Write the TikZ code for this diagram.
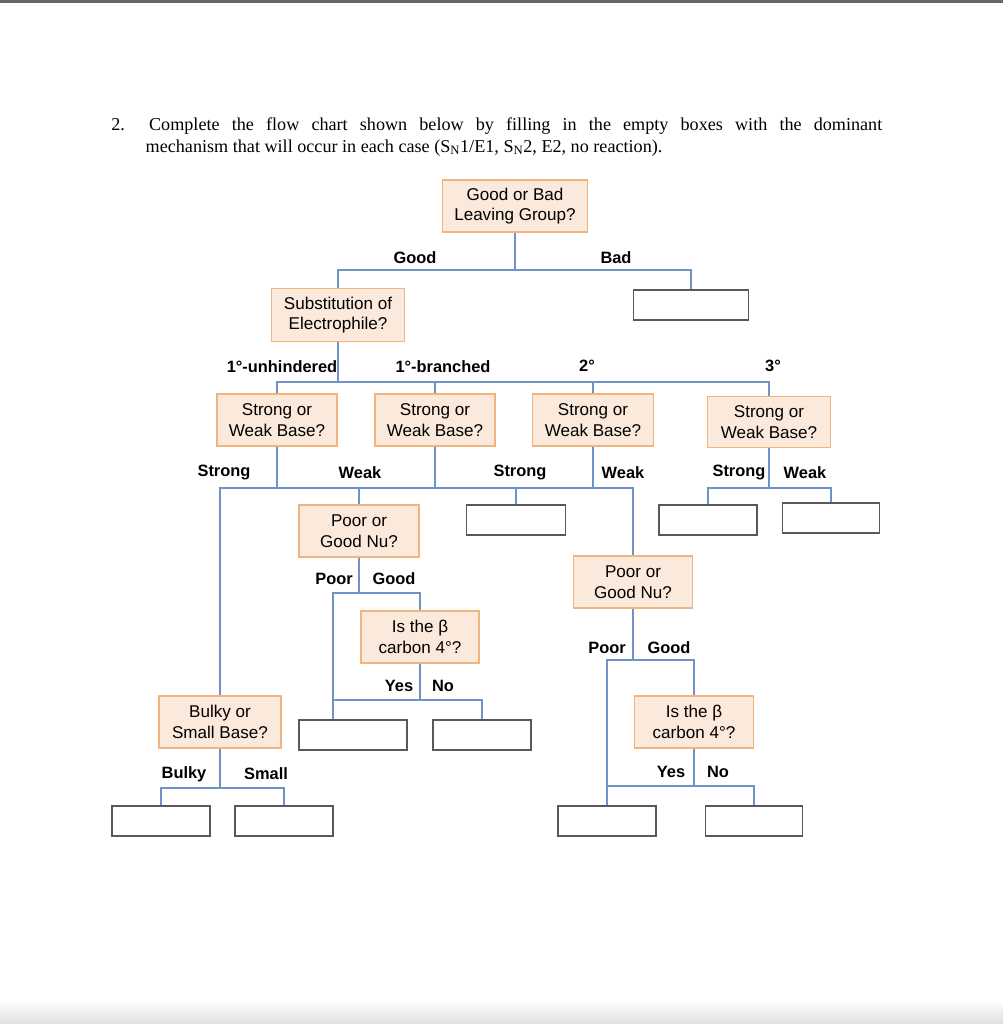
\documentclass[tikz,border=0pt]{standalone}
\usepackage{fontspec}
\setmainfont{Liberation Serif}
\newfontfamily\sansf{Liberation Sans}
\definecolor{bfill}{HTML}{FBE9DB}
\definecolor{bdraw}{HTML}{F2B47E}
\definecolor{lblue}{HTML}{6F93C8}
\begin{document}
\begin{tikzpicture}[x=0.75pt,y=-0.75pt,
  q/.style 2 args={draw=bdraw, line width=0.9pt, fill=bfill,
    minimum width=#1*0.75pt, minimum height=#2*0.75pt, inner sep=0pt, align=center,
    font=\sansf\fontsize{12.8}{15.5}\selectfont},
  e/.style 2 args={draw=gray!70!black, line width=0.8pt, fill=white, minimum width=#1*0.75pt, minimum height=#2*0.75pt, inner sep=0pt},
  ln/.style={draw=lblue, line width=1.6pt},
  lb/.style={font=\sansf\bfseries\fontsize{12.3}{14}\selectfont, inner sep=0pt}]
\useasboundingbox[fill=white] (0,0) rectangle (1003,1024);
\fill[gray!80!black] (0,0) rectangle (1003,3);
\shade[top color=white,bottom color=gray!25] (0,1000) rectangle (1003,1024);
\node[align=justify, anchor=north west, inner sep=0pt, text width=771*0.75pt,
  font=\fontsize{13.6}{16.5}\selectfont] (title) at (111,117)
 {2.\ \ Complete the flow chart shown below by filling in the empty boxes with the dominant
 \linebreak\hspace*{1.9em}mechanism that will occur in each case (S\textsubscript{N}1/E1, S\textsubscript{N}2, E2, no reaction).};
% boxes
\node[q={145}{52}] (lg) at (515,206) {Good or Bad\\Leaving Group?};
\node[e={115}{30}] (bad) at (691,305) {};
\node[q={133}{53}] (sub) at (338,315) {Substitution of\\Electrophile?};
\node[q={120}{52}] (s1) at (277,420) {Strong or\\Weak Base?};
\node[q={120}{52}] (s2) at (435,420) {Strong or\\Weak Base?};
\node[q={121}{52}] (s3) at (593,420) {Strong or\\Weak Base?};
\node[q={123}{51}] (s4) at (769,422) {Strong or\\Weak Base?};
\node[q={120}{52}] (nu1) at (359,531) {Poor or\\Good Nu?};
\node[e={99}{30}] (e2) at (516,520) {};
\node[e={98}{30}] (e3) at (708,520) {};
\node[e={97}{30}] (e4) at (831,518) {};
\node[q={119}{52}] (nu2) at (633,582) {Poor or\\Good Nu?};
\node[q={118}{52}] (b1) at (420,637) {Is the β\\carbon 4°?};
\node[e={108}{30}] (e5) at (353,735) {};
\node[e={98}{30}] (e6) at (482,735) {};
\node[q={122}{52}] (bk) at (220,722) {Bulky or\\Small Base?};
\node[q={119}{52}] (b2) at (694,722) {Is the β\\carbon 4°?};
\node[e={98}{30}] (e7) at (161,821) {};
\node[e={98}{30}] (e8) at (284,821) {};
\node[e={98}{30}] (e9) at (607,821) {};
\node[e={97}{30}] (e10) at (754,821) {};
% labels
\node[lb] at (415,258) {Good};
\node[lb] at (616,258) {Bad};
\node[lb] at (282,367) {1°-unhindered};
\node[lb] at (443,367) {1°-branched};
\node[lb] at (587,366) {2°};
\node[lb] at (773,366) {3°};
\node[lb] at (224,473) {Strong};
\node[lb] at (360,473) {Weak};
\node[lb] at (520,473) {Strong};
\node[lb] at (623,473) {Weak};
\node[lb] at (739,473) {Strong};
\node[lb] at (805,473) {Weak};
\node[lb] at (334,579) {Poor};
\node[lb] at (394,579) {Good};
\node[lb] at (399,686) {Yes};
\node[lb] at (443,686) {No};
\node[lb] at (184,774) {Bulky};
\node[lb] at (266,774) {Small};
\node[lb] at (607,648) {Poor};
\node[lb] at (669,648) {Good};
\node[lb] at (671,772) {Yes};
\node[lb] at (718,772) {No};
% connectors
\draw[ln] (lg.south) -- (lg.south|-0,270);
\draw[ln] (sub.north) -- (sub.north|-0,270) -- (bad.north|-0,270) -- (bad.north);
\draw[ln] (sub.south) -- (sub.south|-0,382);
\draw[ln] (s1.north) -- (s1.north|-0,382) -- (s4.north|-0,382) -- (s4.north);
\draw[ln] (s2.north) -- (s2.north|-0,382);
\draw[ln] (s3.north) -- (s3.north|-0,382);
\draw[ln] (s1.south) -- (s1.south|-0,488);
\draw[ln] (s2.south) -- (s2.south|-0,488);
\draw[ln] (s3.south) -- (s3.south|-0,488);
\draw[ln] (bk.north) -- (bk.north|-0,488) -- (nu2.north|-0,488) -- (nu2.north);
\draw[ln] (nu1.north) -- (nu1.north|-0,488);
\draw[ln] (e2.north) -- (e2.north|-0,488);
\draw[ln] (s4.south) -- (s4.south|-0,488);
\draw[ln] (e3.north) -- (e3.north|-0,488) -- (e4.north|-0,488) -- (e4.north);
\draw[ln] (nu1.south) -- (nu1.south|-0,593);
\draw[ln] ([xshift=-26*0.75pt]nu1.south|-e5.north) -- ([xshift=-26*0.75pt]nu1.south|-0,593) -- (b1.north|-0,593) -- (b1.north);
\draw[ln] (b1.south) -- (b1.south|-0,700);
\draw[ln] ([xshift=-26*0.75pt]nu1.south|-0,700) -- (e6.north|-0,700) -- (e6.north);
\draw[ln] (bk.south) -- (bk.south|-0,788);
\draw[ln] (e7.north) -- (e7.north|-0,788) -- (e8.north|-0,788) -- (e8.north);
\draw[ln] (nu2.south) -- (nu2.south|-0,660);
\draw[ln] (e9.north) -- (e9.north|-0,660) -- (b2.north|-0,660) -- (b2.north);
\draw[ln] (b2.south) -- (b2.south|-0,786);
\draw[ln] (e9.north|-0,786) -- (e10.north|-0,786) -- (e10.north);
\end{tikzpicture}
\end{document}
